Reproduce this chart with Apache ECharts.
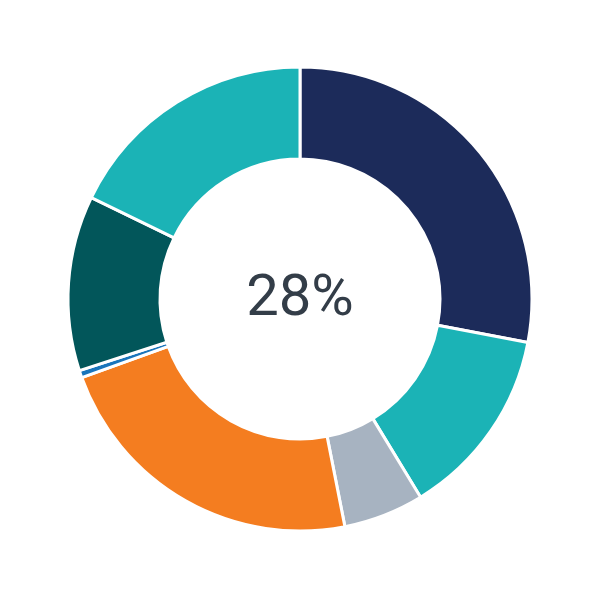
<!DOCTYPE html>
<html>
<head>
<meta charset="utf-8">
<script src="https://cdn.jsdelivr.net/npm/echarts@6/dist/echarts.min.js"></script>
<style>html,body{margin:0;padding:0;background:#fff}#c{width:600px;height:600px}</style>
</head>
<body>
<div id="c"></div>
<script>
var categories = ['A', 'B', 'C', 'D', 'E', 'F', 'G'];
var values = [28, 13.3, 5.6, 22.6, 0.5, 12.2, 17.8];
var colors = ['#1c2b5a', '#1bb3b6', '#a7b3c1', '#f47d20', '#1a75bb', '#02565a', '#1bb3b6'];
var centerLabel = '28%';

var chart = echarts.init(document.getElementById('c'));
chart.setOption({
  animation: false,
  graphic: [{
    type: 'text',
    left: 'center',
    top: 271,
    style: {
      text: centerLabel,
      fontSize: 58,
      fontFamily: 'Roboto, sans-serif',
      fill: '#333d48'
    }
  }],
  series: [{
    type: 'pie',
    center: [300, 299],
    radius: [140, 232],
    startAngle: 90,
    clockwise: true,
    label: { show: false },
    labelLine: { show: false },
    itemStyle: { borderColor: '#ffffff', borderWidth: 3 },
    emphasis: { disabled: true },
    data: categories.map(function (c, i) {
      return { name: c, value: values[i], itemStyle: { color: colors[i] } };
    })
  }]
});
</script>
</body>
</html>
